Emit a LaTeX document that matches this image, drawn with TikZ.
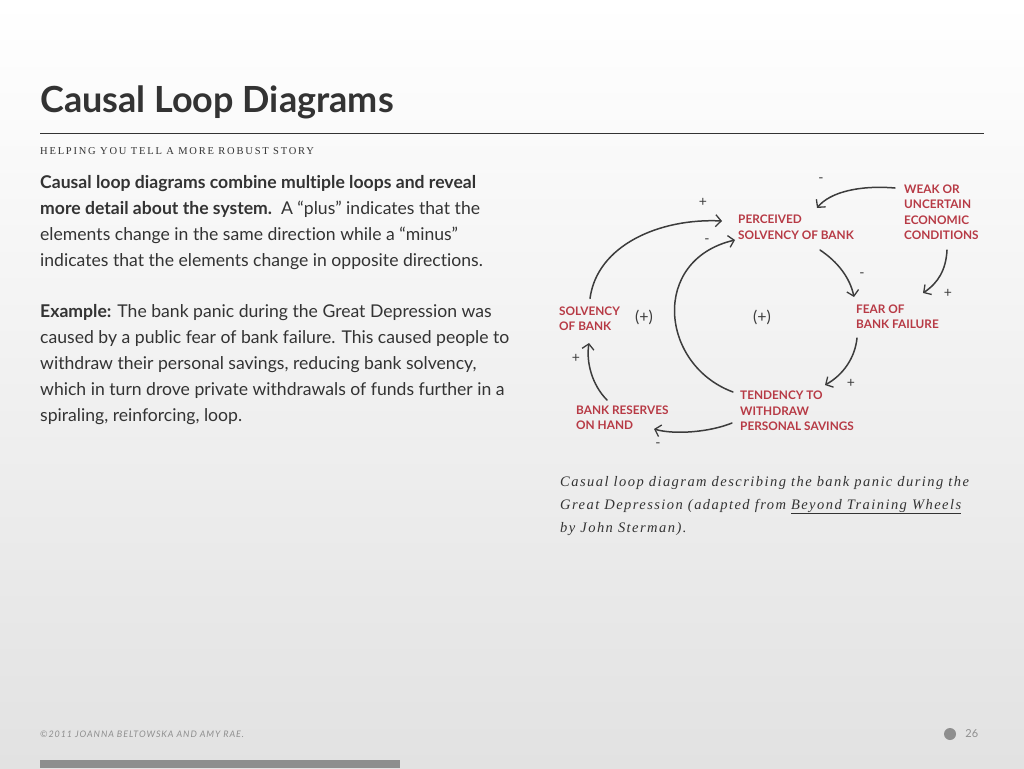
\documentclass[tikz,border=0pt]{standalone}
\usepackage{fontspec}
\setmainfont[Ligatures=NoCommon]{Lato}
\newfontfamily\subfont[LetterSpace=17]{Liberation Serif}
\newfontfamily\capfont[LetterSpace=10]{Liberation Serif}
\newfontfamily\footfont[LetterSpace=10]{Lato}
\usetikzlibrary{positioning,calc,arrows.meta}
\definecolor{cldred}{HTML}{B73A45}
\definecolor{ink}{HTML}{3C3C3C}
\definecolor{bodytext}{HTML}{333333}
\definecolor{footgray}{HTML}{8E8E8E}

\begin{document}
\begin{tikzpicture}
        [x=1pt,y=-1pt,
         var/.style={anchor=west,align=left,inner sep=0pt,text=cldred,
                     font=\bfseries\fontsize{11.8}{15.5}\selectfont},
         link/.style={draw=ink,line width=1.5pt,line cap=round,
                      -{Straight Barb[length=5.5pt,width=12pt,line width=1.3pt]}},
         sign/.style={inner sep=0pt,text=ink,font=\fontsize{14}{14}\selectfont},
         loopmark/.style={inner sep=0pt,text=ink,font=\fontsize{16}{16}\selectfont},
         body/.style={anchor=base west,align=left,inner sep=0pt,text=bodytext,
                      font=\fontsize{17.6}{26}\selectfont}]
        % background
        \shade[top color=white,bottom color={rgb,255:red,226;green,226;blue,226}]
                (0,0) rectangle (1024,768);
        \useasboundingbox (0,0) rectangle (1024,768);
        % header
        \node[anchor=base west,inner sep=0pt,text=bodytext,
              font=\bfseries\fontsize{36}{36}\selectfont](title) at (40,112){Causal Loop Diagrams};
        \coordinate (rulel) at (40,133);
        \coordinate (ruler) at (984,133);
        \draw[bodytext,line width=1pt] (rulel) -- (ruler);
        \node[anchor=base west,inner sep=0pt,text=bodytext,
              font=\subfont\fontsize{10.5}{10.5}\selectfont](subtitle) at (40,154){HELPING YOU TELL A MORE ROBUST STORY};
        % text
        \node[body](intro) at (40,266){\textbf{Causal loop diagrams combine multiple loops and reveal}\\
                \textbf{more detail about the system.}\ \ A “plus” indicates that the\\
                elements change in the same direction while a “minus”\\
                indicates that the elements change in opposite directions.};
        \node[body](example) at (40,421){\textbf{Example:} The bank panic during the Great Depression was\\
                caused by a public fear of bank failure. This caused people to\\
                withdraw their personal savings, reducing bank solvency,\\
                which in turn drove private withdrawals of funds further in a\\
                spiraling, reinforcing, loop.};
        % variables
        \node[var](psb) at (738,227){PERCEIVED\\SOLVENCY OF BANK};
        \node[var](weak) at (904,212){WEAK OR\\UNCERTAIN\\ECONOMIC\\CONDITIONS};
        \node[var](fear) at (856,316.5){FEAR OF\\BANK FAILURE};
        \node[var](tend) at (740,411){TENDENCY TO\\WITHDRAW\\PERSONAL SAVINGS};
        \node[var](res) at (576,417.5){BANK RESERVES\\ON HAND};
        \node[var](sol) at (559,318.5){SOLVENCY\\OF BANK};
        \node[loopmark](outer) at (644,317){(+)};
        \node[loopmark](inner) at (762,317){(+)};
        % links
        \draw[link] ($(sol.west)+(31,-20)$) .. controls (597,245) and (660,218) .. ($(psb.west)+(-16,-6)$);
        \draw[link] ($(tend.west)+(-7,-19)$) .. controls (660,365) and (650,260) .. ($(psb.west)+(-3,13)$);
        \draw[link] ($(psb.west)+(82,23)$) .. controls (838,262) and (850,278) .. ($(fear.west)+(-2,-19.5)$);
        \draw[link] ($(weak.west)+(-9,-24)$) .. controls (860,185) and (830,192) .. ($(psb.west)+(79,-19)$);
        \draw[link] ($(weak.west)+(43,38)$) .. controls (946,270) and (938,283) .. ($(fear.west)+(67,-23.5)$);
        \draw[link] ($(fear.west)+(1,21.5)$) .. controls (855,358) and (843,375) .. ($(tend.west)+(85,-26)$);
        \draw[link] ($(tend.west)+(-8,12)$) .. controls (710,432) and (675,435) .. ($(res.west)+(78,11.5)$);
        \draw[link] ($(res.west)+(31,-17.5)$) .. controls (592,385) and (586,362) .. ($(sol.west)+(30,24.5)$);
        % polarities
        \node[sign](s1) at (703,202){+};
        \node[sign](s2) at (707,241){-};
        \node[sign](s3) at (862,275){-};
        \node[sign](s4) at (821,180){-};
        \node[sign](s5) at (948,293){+};
        \node[sign](s6) at (851,383){+};
        \node[sign](s7) at (658,445){-};
        \node[sign](s8) at (576,358){+};
        % caption
        \node[anchor=base west,align=left,inner sep=0pt,text=bodytext,
              font=\capfont\itshape\fontsize{14.5}{23}\selectfont](caption) at (560,532){%
                Casual loop diagram describing the bank panic during the\\
                Great Depression (adapted from \underline{Beyond Training Wheels}\\
                by John Sterman).};
        % footer
        \node[anchor=base west,inner sep=0pt,text=footgray,
              font=\footfont\itshape\fontsize{9}{9}\selectfont](credit) at (40,737){©2011 JOANNA BELTOWSKA AND AMY RAE.};
        \node[circle,fill=footgray,inner sep=0pt,minimum size=12pt](dot) at (950,734){};
        \node[inner sep=0pt,text=footgray,font=\fontsize{11}{11}\selectfont,right=9pt of dot](page){26};
        \fill[footgray] (40,760) rectangle (400,768);
\end{tikzpicture}
\end{document}
